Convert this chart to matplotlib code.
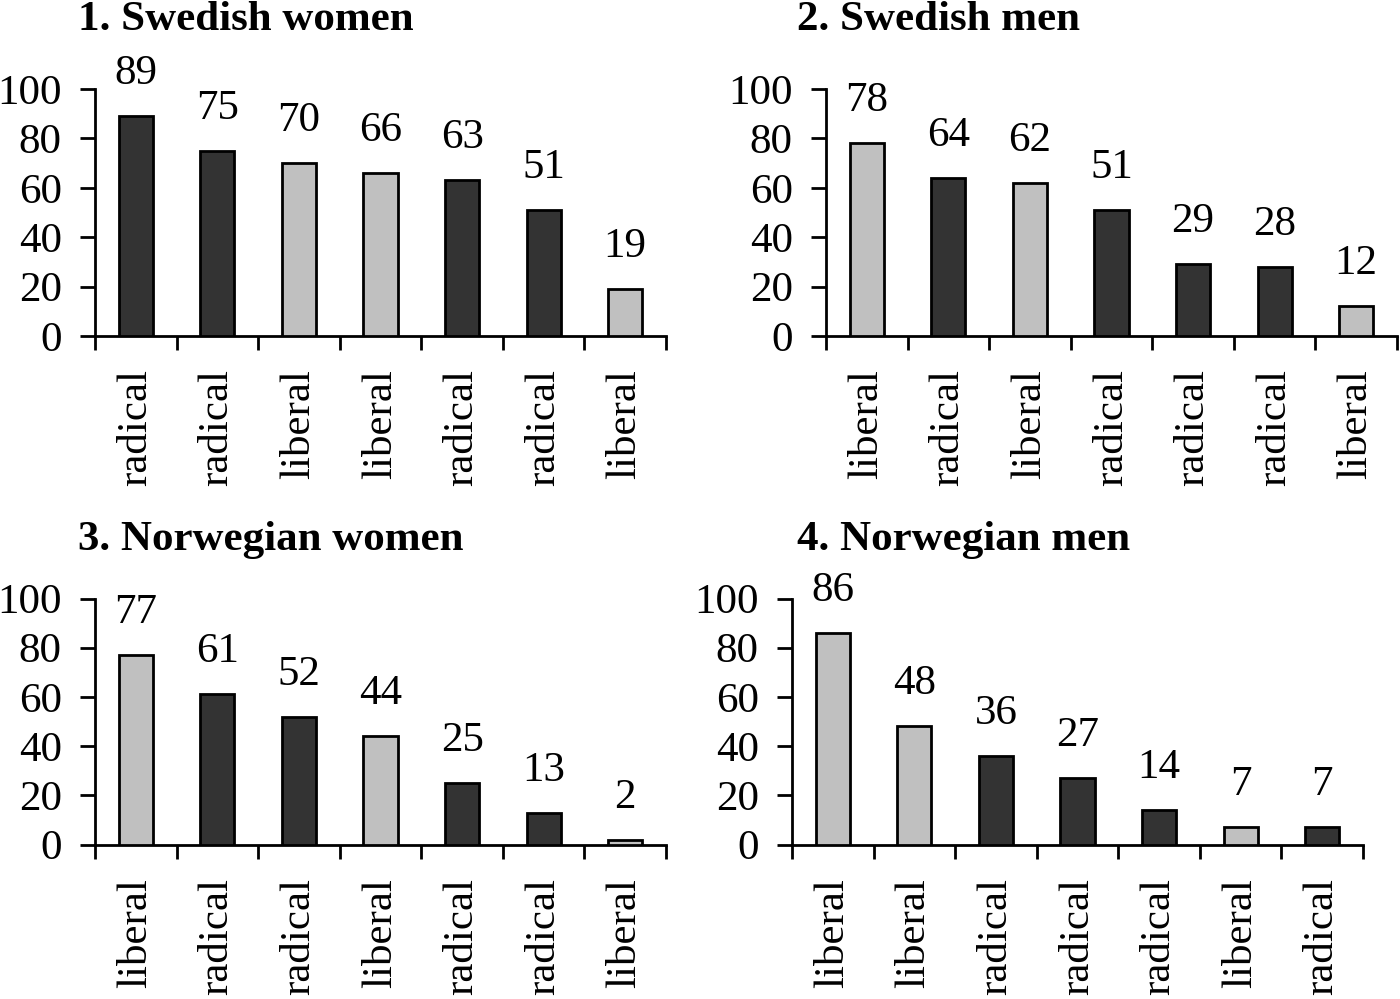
import matplotlib.pyplot as plt
import numpy as np

plt.rcParams["font.family"] = ["Liberation Serif", "DejaVu Serif"]

TITLES = ["1. Swedish women", "2. Swedish men", "3. Norwegian women", "4. Norwegian men"]

sw_women_values = [89, 75, 70, 66, 63, 51, 19]
sw_women_types = ["radical", "radical", "liberal", "liberal", "radical", "radical", "liberal"]

sw_men_values = [78, 64, 62, 51, 29, 28, 12]
sw_men_types = ["liberal", "radical", "liberal", "radical", "radical", "radical", "liberal"]

no_women_values = [77, 61, 52, 44, 25, 13, 2]
no_women_types = ["liberal", "radical", "radical", "liberal", "radical", "radical", "liberal"]

no_men_values = [86, 48, 36, 27, 14, 7, 7]
no_men_types = ["liberal", "liberal", "radical", "radical", "radical", "liberal", "radical"]

COLORS = {"radical": "#333333", "liberal": "#c0c0c0"}

W, H = 1400, 999
# axes boxes in pixels: left, top(y=100), bottom(y=0)
BOXES = [(95, 89, 336), (826, 89, 336), (95, 598.5, 844.5), (792, 598.5, 844.5)]
AX_W = 571
TITLE_POS = [(78, 30), (797, 30), (78, 550), (797, 550)]

fig = plt.figure(figsize=(W / 100, H / 100), dpi=100)

panels = [
    (sw_women_values, sw_women_types),
    (sw_men_values, sw_men_types),
    (no_women_values, no_women_types),
    (no_men_values, no_men_types),
]

for i, (values, types) in enumerate(panels):
    left, top, bottom = BOXES[i]
    ax = fig.add_axes([left / W, 1 - bottom / H, AX_W / W, (bottom - top) / H])
    x = np.arange(len(values))
    ax.bar(x, values, width=0.42, color=[COLORS[t] for t in types],
           edgecolor="black", linewidth=2.0, zorder=3)
    for xi, v in zip(x, values):
        ax.annotate(str(v), (xi, v), xytext=(0, 23), textcoords="offset points",
                    ha="center", va="baseline", fontsize=31, annotation_clip=False)

    ax.set_xlim(-0.5, len(values) - 0.5)
    ax.set_ylim(0, 100)
    ax.set_yticks(range(0, 101, 20))
    ax.set_xticks(x)
    ax.set_xticklabels(types, rotation=90)
    ax.set_xticks(np.arange(-0.5, len(values), 1), minor=True)
    ax.tick_params(axis="x", which="major", length=0, pad=24, labelsize=31)
    ax.tick_params(axis="x", which="minor", length=10, width=2, direction="out")
    ax.tick_params(axis="y", length=11, width=2, direction="out", pad=13, labelsize=31)

    for side in ["top", "right"]:
        ax.spines[side].set_visible(False)
    for side in ["left", "bottom"]:
        ax.spines[side].set_linewidth(2)
    ax.patch.set_visible(False)

    tx, ty = TITLE_POS[i]
    fig.text(tx / W, 1 - ty / H, TITLES[i], fontsize=31, fontweight="bold",
             ha="left", va="baseline")

fig.savefig("out.png", dpi=100, facecolor="white")
